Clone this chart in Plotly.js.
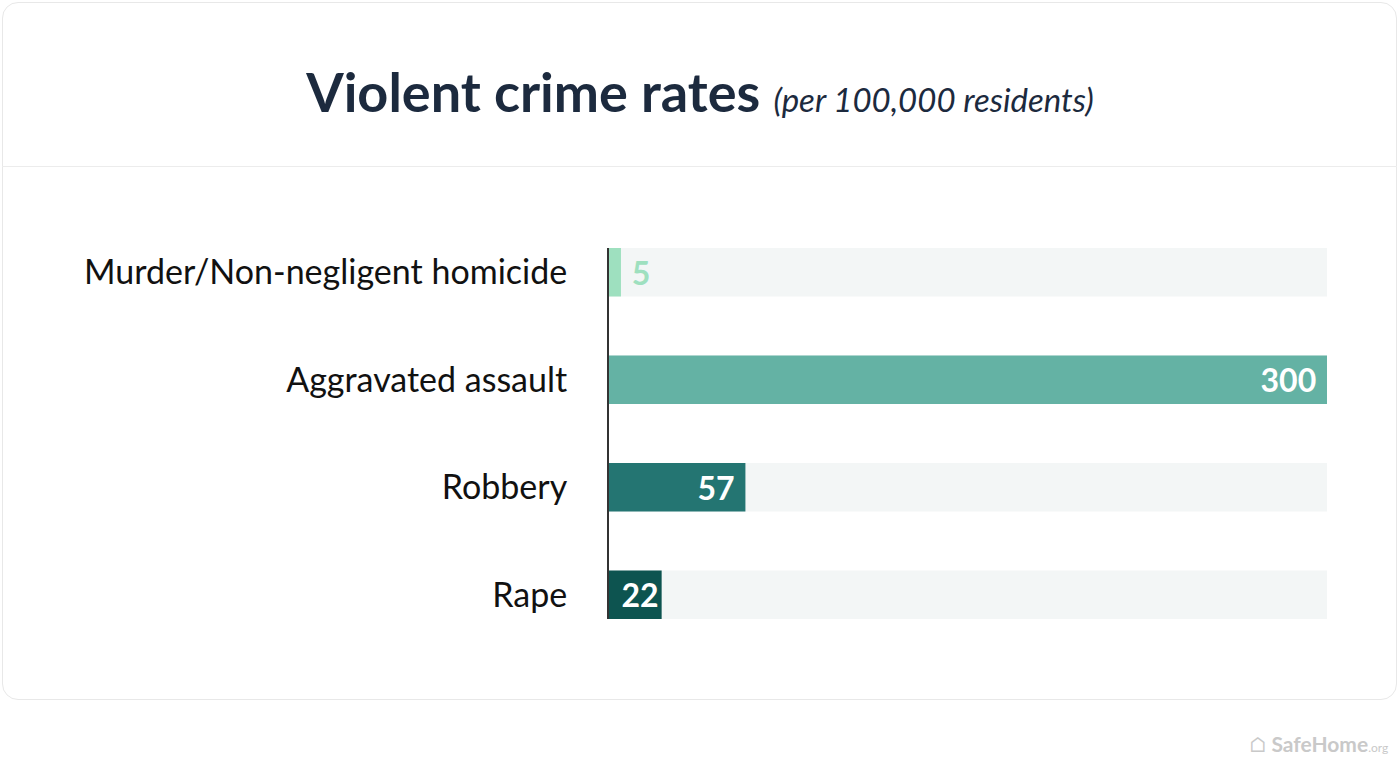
<!DOCTYPE html>
<html>
<head>
<meta charset="utf-8">
<script src="https://cdn.plot.ly/plotly-3.0.1.min.js"></script>
<style>
  html, body { margin: 0; padding: 0; background: #ffffff; }
  #wrap { position: relative; width: 1400px; height: 758px; overflow: hidden; }
  #card { position: absolute; left: 2px; top: 2px; width: 1395px; height: 698px;
          border: 1.5px solid #e8e8e8; border-radius: 16px; box-sizing: border-box; }
  #divider { position: absolute; left: 2px; top: 166px; width: 1395px; height: 0;
             border-top: 1.5px solid #ececec; }
  #chart { position: absolute; left: 0; top: 0; width: 1400px; height: 758px; }
</style>
</head>
<body>
<div id="wrap">
  <div id="card"></div>
  <div id="divider"></div>
  <div id="chart"></div>
</div>
<script>
const categories = ["Murder/Non-negligent homicide", "Aggravated assault", "Robbery", "Rape"];
const rates = [5, 300, 57, 22];
const barColors = ["#9ee0bf", "#64b2a4", "#247572", "#0d5450"];
const labelColors = ["#9ee0bf", "#ffffff", "#ffffff", "#ffffff"];
const labelPositions = ["outside", "inside", "inside", "inside"];
const scaleMax = 300;
const trackValues = categories.map(() => scaleMax);

const FONT = "Lato, 'Open Sans', sans-serif";
const NB = "\u00a0";

// small spacing so labels sit a bit away from bar ends (as in the reference)
const labelTexts = rates.map((v, i) => {
  const s = String(v);
  if (labelPositions[i] === "outside") return NB + s;
  return v >= 50 ? s + NB : s;
});

const track = {
  type: "bar", orientation: "h",
  y: categories, x: trackValues,
  marker: { color: "#f3f6f6", line: { width: 0 } },
  width: 0.451,
  hoverinfo: "skip", showlegend: false
};

const bars = {
  type: "bar", orientation: "h",
  y: categories, x: rates,
  marker: { color: barColors, line: { width: 0 } },
  width: 0.451,
  text: labelTexts,
  textposition: labelPositions,
  insidetextanchor: "end",
  textangle: 0,
  textfont: { family: FONT, size: 32, weight: 700, color: labelColors },
  outsidetextfont: { family: FONT, size: 32, weight: 700, color: labelColors },
  insidetextfont: { family: FONT, size: 32, weight: 700, color: labelColors },
  cliponaxis: false,
  hoverinfo: "x+y", showlegend: false
};

const layout = {
  width: 1400, height: 758,
  paper_bgcolor: "rgba(0,0,0,0)", plot_bgcolor: "rgba(0,0,0,0)",
  margin: { l: 609, r: 73, t: 248, b: 139, pad: 0 },
  barmode: "overlay",
  uniformtext: { minsize: 32, mode: "show" },
  font: { family: FONT, color: "#111111" },
  title: {
    text: "Violent crime rates <span style='font-size:33px;font-weight:400;font-style:italic'>(per 100,000 residents)</span>",
    font: { family: FONT, size: 54, weight: 700, color: "#1c2a3e" },
    x: 0.5, xanchor: "center", xref: "container",
    y: 1 - 93 / 758, yanchor: "middle", yref: "container"
  },
  xaxis: {
    range: [0, scaleMax], showgrid: false, zeroline: false, showline: false,
    showticklabels: false, ticks: "", fixedrange: true
  },
  yaxis: {
    type: "category", categoryorder: "array", categoryarray: categories,
    range: [3.2255, -0.2255],
    showgrid: false, zeroline: false,
    showline: true, linecolor: "#333333", linewidth: 2,
    ticks: "", ticklabelstandoff: 33,
    tickfont: { family: FONT, size: 34, color: "#111111" },
    fixedrange: true
  },
  annotations: [{
    xref: "paper", yref: "paper", x: 1 + 62 / 718, y: -(757 - 619) / 371,
    xanchor: "right", yanchor: "bottom", showarrow: false, borderpad: 0,
    text: "⌂ <b>SafeHome</b><span style='font-size:12px'>.org</span>",
    font: { family: FONT, size: 21, color: "#c9c9c9" }
  }]
};

Plotly.newPlot("chart", [track, bars], layout, { displayModeBar: false });
</script>
</body>
</html>
